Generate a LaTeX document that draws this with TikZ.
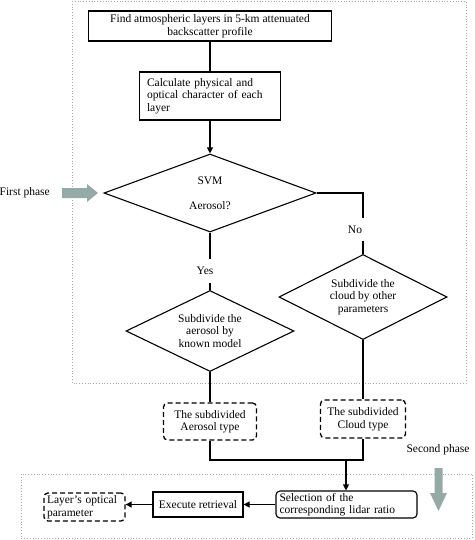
\documentclass[tikz,border=0pt]{standalone}
\usepackage{fontspec}
\setmainfont{Liberation Serif}
\usetikzlibrary{shapes.geometric,arrows.meta}
\definecolor{phasegray}{RGB}{150,170,165}

\begin{document}
\begin{tikzpicture}[x=1pt,y=-1pt,
  every node/.style={font=\fontsize{11.5}{12.5}\selectfont},
  proc/.style={draw,line width=1.1pt,inner sep=0pt},
  decision/.style={draw,diamond,aspect=2,line width=1.1pt,inner sep=0pt,align=center},
  outcome/.style={draw,line width=1.3pt,rounded corners=4pt,dash pattern=on 5pt off 3pt,inner sep=0pt,align=center},
  phasebox/.style={gray!70,line width=0.6pt,dash pattern=on 0.8pt off 2pt},
  flow/.style={line width=1.1pt},
  arr/.style={flow,-{Triangle[length=6pt,width=6pt]}}]
\useasboundingbox (0,0) rectangle (474,540);

% the two phases
\draw[phasebox] (72,1) rectangle (466,383);
\draw[phasebox] (21,474) rectangle (472,538);

\node[proc,minimum width=243pt,minimum height=30pt,align=center] (find) at (210,26) {Find atmospheric layers in 5-km attenuated\\backscatter profile};
\node[proc,minimum width=141pt,minimum height=48pt,text width=126pt,align=left] (calc) at (210,96) {Calculate physical and\\optical character of each\\layer};
\node[decision,minimum width=212pt,minimum height=78pt] (svm) at (210,193) {SVM\\[12.5pt]Aerosol?};
\node[decision,minimum width=168pt,minimum height=81pt] (aero) at (210,331) {Subdivide the\\aerosol by\\known model};
\node[decision,minimum width=168pt,minimum height=85pt] (cloud) at (363,297) {Subdivide the\\cloud by other\\parameters};
\node[minimum height=23pt,inner sep=0pt] (no) at (355,229.5) {No};
\node[minimum height=24pt,inner sep=0pt] (yes) at (205,271) {Yes};
\node[outcome,minimum width=93pt,minimum height=37pt] (aerotype) at (210,421.5) {The subdivided\\Aerosol type};
\node[outcome,minimum width=85pt,minimum height=38pt] (cloudtype) at (363,419) {The subdivided\\Cloud type};
\node[proc,rounded corners=4pt,minimum width=141pt,minimum height=27pt,text width=134pt,align=left] (select) at (346.5,504.5) {Selection of the\\corresponding lidar ratio};
\node[proc,minimum width=90pt,minimum height=25pt] (exec) at (198,504.5) {Execute retrieval};
\node[outcome,minimum width=81pt,minimum height=28pt,text width=75pt,align=left] (layer) at (84.5,507) {Layer's optical\\parameter};
\node[anchor=east,inner sep=0pt] (first) at (50,193) {First phase};
\node (second) at (438,450) {Second phase};

% gray phase arrows
\fill[phasegray] (62,188) -- (87,188) -- (87,184) -- (98,193) -- (87,202) -- (87,198) -- (62,198) -- cycle;
\fill[phasegray] (434.5,468) -- (442.5,468) -- (442.5,493) -- (447,493) -- (438.5,511) -- (430,493) -- (434.5,493) -- cycle;

\draw[flow] (find) -- (calc);
\draw[arr] (calc) -- (svm);
\draw[flow] (svm.east) -| (no.north -| cloud.north);
\draw[flow] (no.south -| cloud.north) -- (cloud.north);
\draw[flow] (svm.south) -- (svm.south |- yes.north);
\draw[flow] (svm.south |- yes.south) -- (aero.north);
\draw[flow] (aero) -- (aerotype);
\draw[flow] (cloud) -- (cloudtype);
\coordinate (merge) at (346,460);
\draw[flow] (aerotype.south) |- (merge) -| (cloudtype.south);
\draw[arr] (merge) -- (merge |- select.north);
\draw[arr] (select) -- (exec);
\draw[arr] (exec.west) -- (exec.west -| layer.east);
\end{tikzpicture}
\end{document}
